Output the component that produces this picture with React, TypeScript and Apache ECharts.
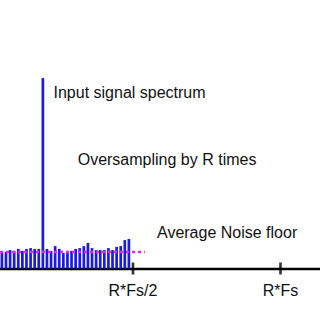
import React, { useEffect, useRef } from "react";
import * as echarts from "echarts";

// Frequency bins (bin k sits at k / BINS_PER_HALF, in units of R*Fs/2)
const BINS_PER_HALF = 36;
const noiseBins = [4, 5, 6, 7, 8, 9, 10, 11, 12, 13, 14, 15, 16, 17, 18, 19, 20, 21, 22, 23, 24, 25, 26, 27, 28, 29, 30, 31, 32, 33, 34, 35];
const spectrumLevel = [8.8, 8.2, 9.2, 8.8, 9.8, 8.8, 9.8, 10.2, 9.8, 9.8, 95.2, 9.8, 8.8, 11.2, 9.8, 7.8, 8.8, 8.8, 9.8, 10.2, 11.2, 12.8, 10.2, 9.2, 9.2, 9.2, 10.2, 9.2, 10.8, 11.2, 14.2, 14.8];
const avgNoiseLevel = 8.25;
const noiseFloorSpan = [0.0983, 1.08];
const tickFreqs = [1, 2];
const tickLabels = ["R*Fs/2", "R*Fs"];
const annotationTexts = ["Input signal spectrum", "Oversampling by R times", "Average Noise floor"];

const X_MIN = 0.0983;
const X_MAX = 2.2678;
const FONT = "'Liberation Sans', Arial, sans-serif";

export default function App() {
  const ref = useRef<HTMLDivElement>(null);
  useEffect(() => {
    if (!ref.current) return;
    const chart = echarts.init(ref.current, null, { renderer: "svg" });
    const barData = noiseBins.map((k, i) => [k / BINS_PER_HALF, spectrumLevel[i]]);
    chart.setOption({
      animation: false,
      backgroundColor: "#ffffff",
      grid: { left: 0, right: 0, top: 68.5, bottom: 51.5, containLabel: false },
      xAxis: {
        type: "value",
        min: X_MIN,
        max: X_MAX,
        splitLine: { show: false },
        axisLine: { show: true, lineStyle: { color: "#000", width: 2.4 } },
        axisTick: { show: false },
        axisLabel: {
          customValues: tickFreqs,
          margin: 14,
          fontSize: 16,
          fontFamily: FONT,
          color: "#111",
          formatter: (v: number) => tickLabels[tickFreqs.indexOf(v)] ?? "",
        },
      },
      yAxis: {
        type: "value",
        min: 0,
        max: 100,
        show: false,
        splitLine: { show: false },
      },
      series: [
        {
          type: "bar",
          data: barData,
          barWidth: 2.7,
          itemStyle: { color: "#1a1ae6" },
          z: 2,
        },
        {
          type: "line",
          data: noiseFloorSpan.map((f) => [f, avgNoiseLevel]),
          symbol: "none",
          lineStyle: { color: "#ee22ee", width: 2.4, type: [3, 3] },
          z: 3,
        },
        {
          type: "scatter",
          data: tickFreqs.map((f) => [f, 0]),
          symbol: "rect",
          symbolSize: [2.6, 12],
          itemStyle: { color: "#000" },
          clip: false,
          z: 4,
        },
      ],
      graphic: [
        {
          type: "text",
          x: 53.5,
          y: 92.7,
          style: { text: annotationTexts[0], fontSize: 16, fontFamily: FONT, fill: "#111", textAlign: "left", textVerticalAlign: "middle" },
        },
        {
          type: "text",
          x: 77.7,
          y: 159.3,
          style: { text: annotationTexts[1], fontSize: 16, fontFamily: FONT, fill: "#111", textAlign: "left", textVerticalAlign: "middle" },
        },
        {
          type: "text",
          x: 157,
          y: 232.8,
          style: { text: annotationTexts[2], fontSize: 16, fontFamily: FONT, fill: "#111", textAlign: "left", textVerticalAlign: "middle" },
        },
      ],
    });
    return () => chart.dispose();
  }, []);
  return <div ref={ref} style={{ position: "fixed", left: 0, top: 0, width: 320, height: 320 }} />;
}
